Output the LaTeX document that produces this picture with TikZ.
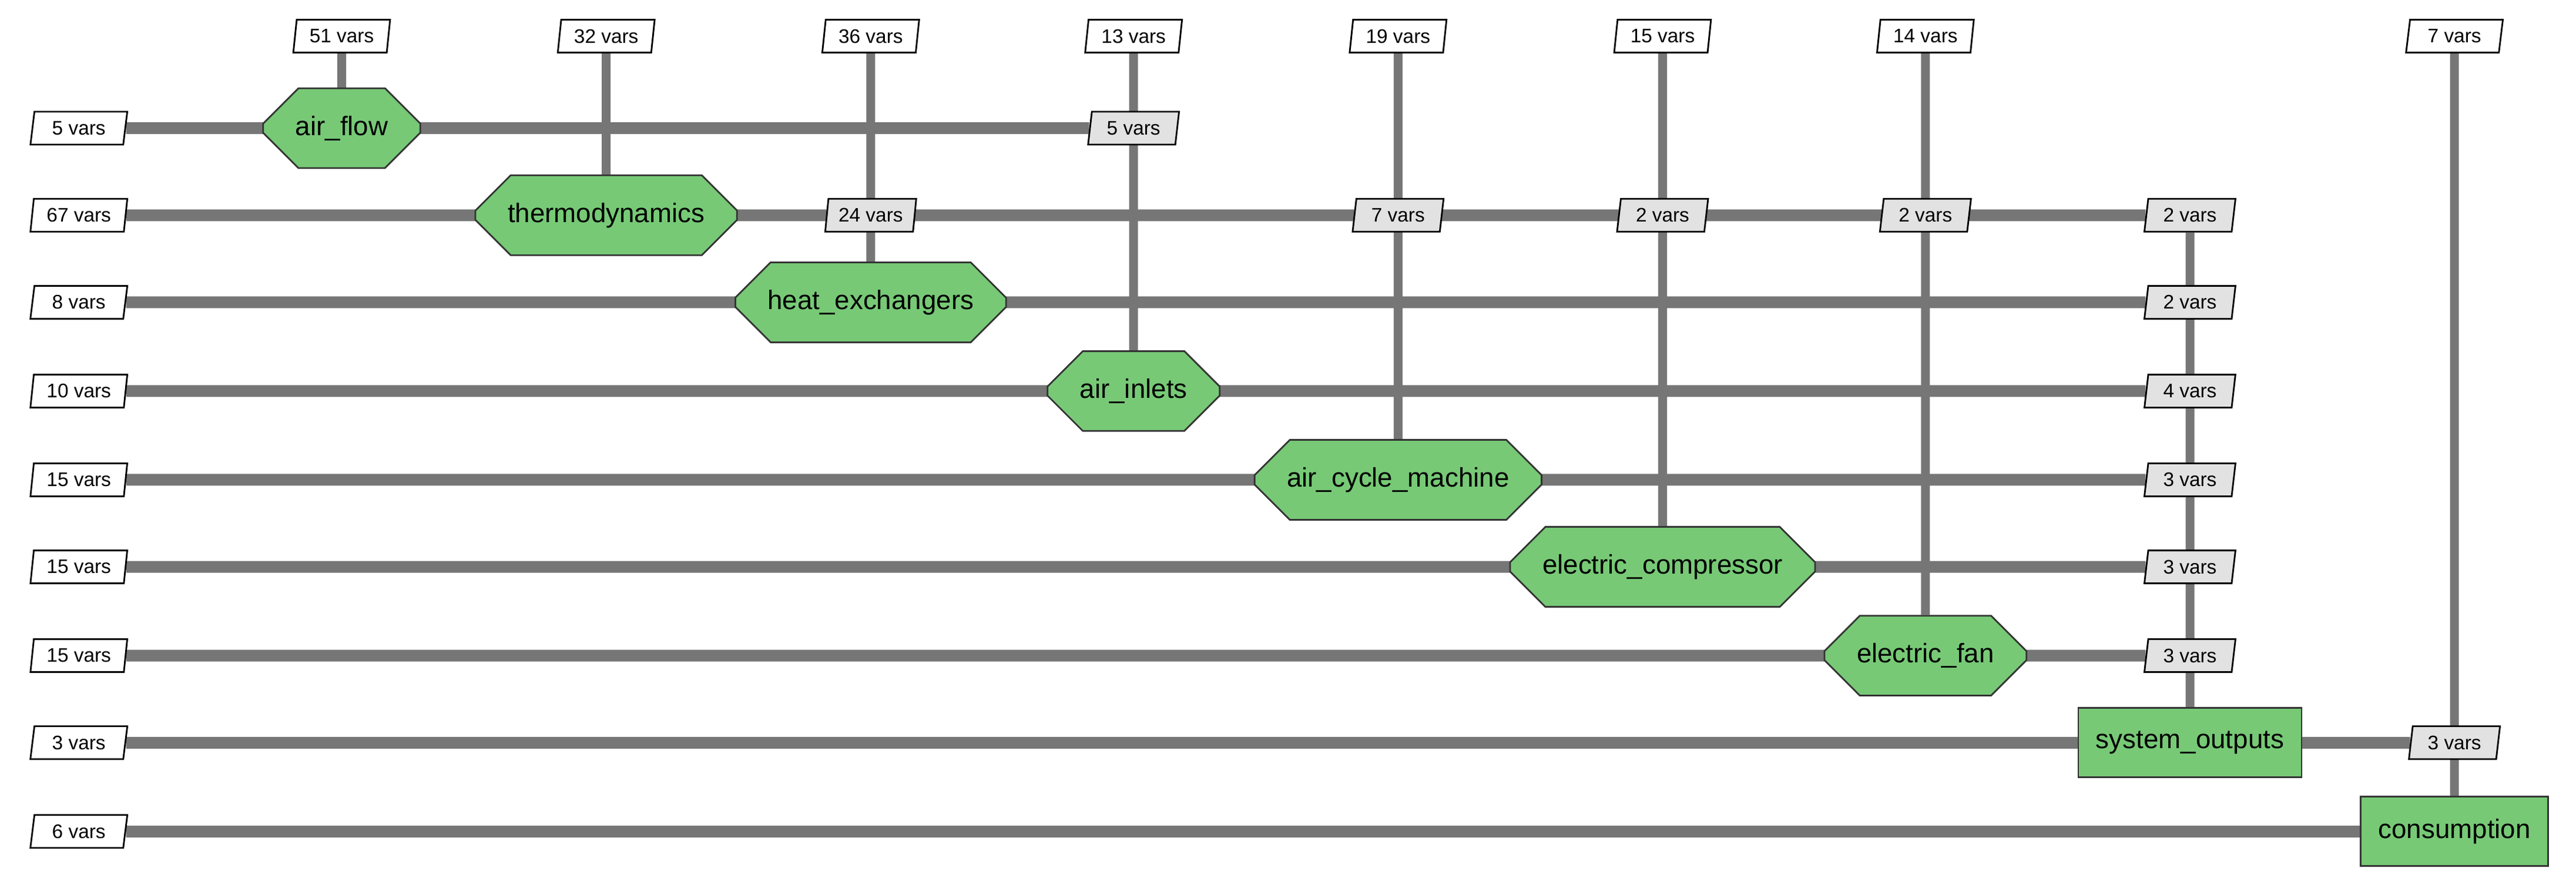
\documentclass[tikz,border=0pt]{standalone}
\usepackage{fontspec}
\setmainfont{Liberation Sans}
\usetikzlibrary{shapes.geometric,shapes.misc,backgrounds}
\definecolor{compgreen}{RGB}{119,201,118}
\definecolor{datagrey}{RGB}{226,226,226}
\definecolor{linegrey}{RGB}{118,118,118}
\tikzset{
	comp/.style={draw=black!80,fill=compgreen,thick,chamfered rectangle,chamfered rectangle xsep=0.25cm,
		chamfered rectangle ysep=0.35cm,minimum height=1.18cm,inner xsep=0.3cm,font=\fontsize{13}{15}\selectfont},
	func/.style={draw=black!80,fill=compgreen,thick,rectangle,minimum height=1.18cm,inner xsep=0.3cm,font=\fontsize{13}{15}\selectfont},
	data/.style={draw=black,thick,trapezium,trapezium left angle=80,trapezium right angle=100,trapezium stretches=true,
		minimum width=1.55cm,minimum height=0.56cm,inner sep=0pt,font=\fontsize{9.5}{11}\selectfont},
	input/.style={data,fill=white,minimum width=1.65cm},
	coupling/.style={data,fill=datagrey},
	hline/.style={linegrey,line width=0.2cm},
	vline/.style={linegrey,line width=0.15cm},
}
\begin{document}
\begin{tikzpicture}[x=0.02796cm,y=-0.02796cm]
	\useasboundingbox (0,0) rectangle (1568,540.4);
	
	% diagonal
	\node[comp] (airflow) at (208,78) {air\_flow};
	\node[comp] (thermo) at (369,131) {thermodynamics};
	\node[comp] (heatex) at (530,184) {heat\_exchangers};
	\node[comp] (inlets) at (690,238) {air\_inlets};
	\node[comp] (acm) at (851,292) {air\_cycle\_machine};
	\node[comp] (ecomp) at (1012,345) {electric\_compressor};
	\node[comp] (efan) at (1172,399) {electric\_fan};
	\node[func] (sysout) at (1333,452) {system\_outputs};
	\node[func] (cons) at (1494,506) {consumption};
	
	% inputs
	\foreach \name/\x/\n in {airflow/208/51, thermo/369/32, heatex/530/36, inlets/690/13, acm/851/19, ecomp/1012/15, efan/1172/14, cons/1494/7}
		\node[input] (top-\name) at (\x,22) {\n\ vars};
	\foreach \name/\y/\n in {airflow/78/5, thermo/131/67, heatex/184/8, inlets/238/10, acm/292/15, ecomp/345/15, efan/399/15, sysout/452/3, cons/506/6}
		\node[input] (left-\name) at (48,\y) {\n\ vars};
	
	% couplings
	\node[coupling] (c-af-in) at (690,78) {5 vars};
	\node[coupling] (c-th-he) at (530,131) {24 vars};
	\node[coupling] (c-th-acm) at (851,131) {7 vars};
	\node[coupling] (c-th-ec) at (1012,131) {2 vars};
	\node[coupling] (c-th-ef) at (1172,131) {2 vars};
	\node[coupling] (c-th-so) at (1333,131) {2 vars};
	\node[coupling] (c-he-so) at (1333,184) {2 vars};
	\node[coupling] (c-in-so) at (1333,238) {4 vars};
	\node[coupling] (c-acm-so) at (1333,292) {3 vars};
	\node[coupling] (c-ec-so) at (1333,345) {3 vars};
	\node[coupling] (c-ef-so) at (1333,399) {3 vars};
	\node[coupling] (c-so-co) at (1494,452) {3 vars};
	
	\begin{scope}[on background layer]
		% rows
		\draw[hline] (left-airflow) -- (c-af-in);
		\draw[hline] (left-thermo) -- (c-th-so);
		\draw[hline] (left-heatex) -- (c-he-so);
		\draw[hline] (left-inlets) -- (c-in-so);
		\draw[hline] (left-acm) -- (c-acm-so);
		\draw[hline] (left-ecomp) -- (c-ec-so);
		\draw[hline] (left-efan) -- (c-ef-so);
		\draw[hline] (left-sysout) -- (c-so-co);
		\draw[hline] (left-cons) -- (cons);
		% columns
		\foreach \name in {airflow,thermo,heatex,inlets,acm,ecomp,efan,cons}
			\draw[vline] (top-\name) -- (\name);
		\draw[vline] (c-th-so) -- (sysout);
	\end{scope}
	
\end{tikzpicture}
\end{document}
